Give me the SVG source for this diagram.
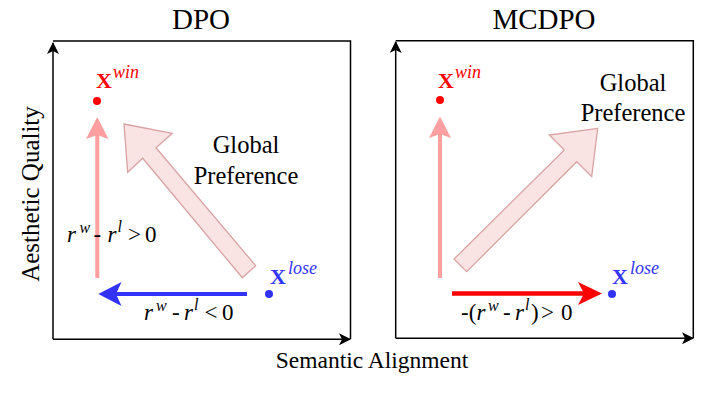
<svg xmlns="http://www.w3.org/2000/svg" width="725" height="395" viewBox="0 0 725 395">
<style>
.t{font-family:"Liberation Serif","Times New Roman",serif;fill:#000}
.it{font-style:italic}
.frame{fill:none;stroke:#000;stroke-width:1.5}
.big{fill:#fae3e3;stroke:#d9a3a3;stroke-width:1.3}
.pink{stroke:#ff9f9f;stroke-width:4;fill:none}
.pinkh{fill:#ff9f9f}
.xr{fill:#ff0000}
.xb{fill:#3333ff}
</style>
<defs>
<marker id="ax" markerWidth="12" markerHeight="12" refX="11" refY="6" orient="auto" markerUnits="userSpaceOnUse">
<path d="M0,0 L12,6 L0,12 L3,6 Z" fill="#000"/>
</marker>
</defs>
<rect width="725" height="395" fill="#fff"/>

<g id="titles">
<text class="t" x="201" y="29" font-size="29" text-anchor="middle">DPO</text>
<text class="t" x="544" y="29" font-size="29" text-anchor="middle">MCDPO</text>
</g>

<g id="axis-labels">
<text class="t" x="372" y="368" font-size="23.5" text-anchor="middle">Semantic Alignment</text>
<text class="t" font-size="25" text-anchor="middle" transform="translate(39,194) rotate(-90)">Aesthetic Quality</text>
</g>

<g id="panel-dpo">
<path class="frame" d="M53,41 H350.5 V339"/>
</g>
<g id="panel-mcdpo">
<path class="frame" d="M395.7,40.7 H693.3 V338.3"/>
</g>

<g id="connectors">
<line class="frame" x1="53" y1="339.3" x2="53" y2="43" marker-end="url(#ax)"/>
<line class="frame" x1="53" y1="339.3" x2="350" y2="339.3" marker-end="url(#ax)"/>
<line class="frame" x1="395.7" y1="338.3" x2="395.7" y2="42" marker-end="url(#ax)"/>
<line class="frame" x1="395.7" y1="338.3" x2="693" y2="338.3" marker-end="url(#ax)"/>

<polygon class="big" points="124,124 172.3,133.3 156,147.7 255.7,265.7 242.3,277.7 142.7,158.3 127.7,172.3"/>
<polygon class="big" points="597.7,128.3 549.3,135 564.3,150 454,259 466.7,271.7 576.7,161.7 591.7,176.7"/>

<line class="pink" x1="97.3" y1="278" x2="97.3" y2="134"/>
<polygon class="pinkh" points="97.3,117 108.5,139 97.3,135 86,139"/>
<line class="pink" x1="440" y1="278" x2="440" y2="134"/>
<polygon class="pinkh" points="440,116.5 451,138 440,134 429,138"/>

<line x1="247" y1="294" x2="114" y2="294" stroke="#3333ff" stroke-width="4.2"/>
<polygon class="xb" points="98.3,294 121.5,282 116,294 121.5,306"/>

<line x1="452" y1="293.5" x2="586" y2="293.5" stroke="#ff0000" stroke-width="4.5"/>
<polygon class="xr" points="602,293.5 578,282 584,293.5 578,305"/>
</g>

<g id="xwin-dpo">
<circle class="xr" cx="97" cy="101" r="4"/>
<text class="t xr" x="96" y="88" font-size="22" font-weight="bold">X</text>
<text class="t it xr" x="113" y="78" font-size="18">win</text>
</g>
<g id="xlose-dpo">
<circle class="xb" cx="269" cy="294" r="4"/>
<text class="t xb" x="270" y="284" font-size="22" font-weight="bold">X</text>
<text class="t it xb" x="288" y="274" font-size="18">lose</text>
</g>
<g id="xwin-mcdpo">
<circle class="xr" cx="440" cy="100" r="4"/>
<text class="t xr" x="438" y="88" font-size="22" font-weight="bold">X</text>
<text class="t it xr" x="455" y="78" font-size="18">win</text>
</g>
<g id="xlose-mcdpo">
<circle class="xb" cx="612" cy="294" r="4"/>
<text class="t xb" x="612" y="284" font-size="22" font-weight="bold">X</text>
<text class="t it xb" x="630" y="274" font-size="18">lose</text>
</g>

<g id="global-dpo">
<text class="t" font-size="24.5" text-anchor="middle"><tspan x="246" y="153">Global</tspan><tspan x="246" y="184">Preference</tspan></text>
</g>
<g id="global-mcdpo">
<text class="t" font-size="24.5" text-anchor="middle"><tspan x="633" y="91">Global</tspan><tspan x="633" y="121">Preference</tspan></text>
</g>

<g id="formula-pos">
<text class="t" font-size="23"><tspan class="it" x="67" y="242">r</tspan><tspan class="it" x="79.5" y="233" font-size="16">w</tspan><tspan x="93.5" y="242">-</tspan><tspan class="it" x="107.5" y="242">r</tspan><tspan class="it" x="117.5" y="232" font-size="16">l</tspan><tspan x="128" y="242">&gt;</tspan><tspan x="145" y="242">0</tspan></text>
</g>
<g id="formula-neg">
<text class="t" font-size="23"><tspan class="it" x="144" y="320">r</tspan><tspan class="it" x="156" y="311" font-size="16">w</tspan><tspan x="172" y="320">-</tspan><tspan class="it" x="184" y="320">r</tspan><tspan class="it" x="194" y="310" font-size="16">l</tspan><tspan x="204.5" y="320">&lt;</tspan><tspan x="222" y="320">0</tspan></text>
</g>
<g id="formula-mcdpo">
<text class="t" font-size="23"><tspan x="461" y="320">-(</tspan><tspan class="it" x="476.5" y="320">r</tspan><tspan class="it" x="488" y="311" font-size="16">w</tspan><tspan x="503" y="320">-</tspan><tspan class="it" x="515" y="320">r</tspan><tspan class="it" x="525" y="310" font-size="16">l</tspan><tspan x="531" y="320">)</tspan><tspan x="541" y="320">&gt;</tspan><tspan x="561" y="320">0</tspan></text>
</g>
</svg>
